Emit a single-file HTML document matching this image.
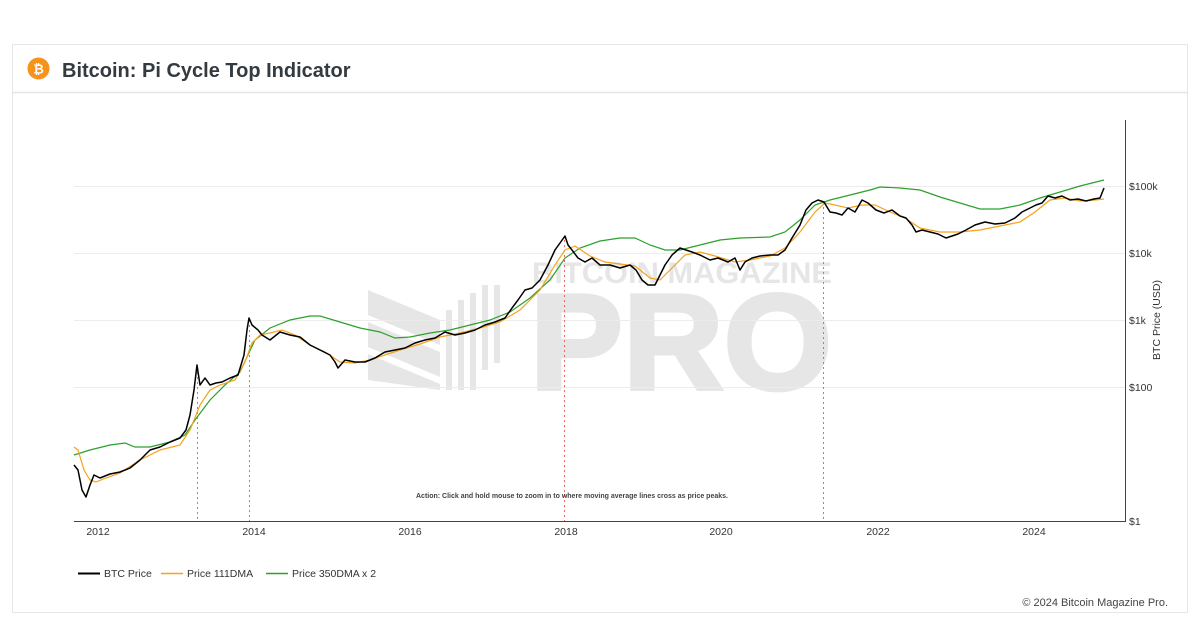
<!DOCTYPE html>
<html><head><meta charset="utf-8"><style>
body{margin:0;background:#fff;width:1200px;height:617px;overflow:hidden;font-family:"Liberation Sans",sans-serif}
</style></head><body>
<svg width="1200" height="617" xmlns="http://www.w3.org/2000/svg" font-family="Liberation Sans, sans-serif">
<rect x="12.5" y="44.5" width="1175" height="568" fill="#fff" stroke="#e6e6e6"/>
<line x1="13" y1="92.5" x2="1187" y2="92.5" stroke="#e6e6e6" stroke-width="1.5"/>
<circle cx="38.5" cy="68.5" r="11" fill="#f7931a"/>
<text x="38.5" y="73.5" font-size="13" font-weight="bold" fill="#fff" text-anchor="middle">₿</text>
<text x="62" y="77" font-size="20" font-weight="bold" fill="#333a40">Bitcoin: Pi Cycle Top Indicator</text>
<g fill="#e6e6e6">
<text x="532" y="283" font-size="30" font-weight="bold" textLength="300" lengthAdjust="spacingAndGlyphs">BITCOIN MAGAZINE</text>
<text x="530" y="389" font-size="136" font-weight="bold" textLength="302" lengthAdjust="spacingAndGlyphs" stroke="#e6e6e6" stroke-width="4">PRO</text>
<polygon points="368,290 440,320 440,345 368,315"/>
<polygon points="368,322 440,352 440,377 368,347"/>
<polygon points="368,354 440,384 440,390 368,380"/>
<rect x="446" y="310" width="6" height="80"/><rect x="458" y="300" width="6" height="90"/>
<rect x="470" y="293" width="6" height="97"/><rect x="482" y="285" width="6" height="85"/>
<rect x="494" y="285" width="6" height="78"/>
</g>
<g stroke="#ececec" stroke-width="1">
<line x1="74" y1="186.5" x2="1125" y2="186.5"/><line x1="74" y1="253.5" x2="1125" y2="253.5"/>
<line x1="74" y1="320.5" x2="1125" y2="320.5"/><line x1="74" y1="387.5" x2="1125" y2="387.5"/>
</g>
<g stroke="#ee6666" stroke-width="1" stroke-dasharray="2,3">
<line x1="197.5" y1="367" x2="197.5" y2="521"/><line x1="249.5" y1="320" x2="249.5" y2="521"/>
<line x1="564.5" y1="240" x2="564.5" y2="521"/><line x1="823.5" y1="202" x2="823.5" y2="521"/>
</g>
<polyline fill="none" stroke="#2ca02c" stroke-width="1.2" points="74,455 90,450 110,445 125,443 135,447 150,447 170,442 185,435 195,420 210,400 225,385 240,372 255,340 270,328 290,320 310,316 320,316 340,322 360,328 380,332 395,338 410,337 430,333 450,330 470,325 490,320 510,312 530,298 550,280 565,258 580,248 600,241 620,238 635,238 650,245 665,250 680,250 700,245 720,240 740,238 770,237 785,232 800,220 815,205 830,200 850,195 870,190 880,187 900,188 920,190 940,197 960,203 980,209 1000,209 1020,205 1040,198 1060,192 1080,186 1104,180"/>
<polyline fill="none" stroke="#f7a21c" stroke-width="1.2" points="74,447 78,450 84,470 90,480 96,482 106,478 120,473 140,460 160,450 180,445 190,430 200,405 210,390 220,385 235,380 245,362 252,343 260,335 270,333 282,330 295,335 310,345 325,352 340,362 355,363 370,360 385,355 400,350 420,344 440,337 460,333 480,328 500,322 520,310 540,290 555,265 565,250 575,246 590,256 605,262 620,264 635,266 650,278 660,280 672,268 685,255 700,252 715,256 735,262 750,260 770,256 785,248 800,232 815,212 825,203 835,205 848,208 862,205 875,205 890,212 905,218 920,228 940,232 960,232 980,230 1000,226 1020,222 1035,212 1050,200 1065,198 1080,201 1095,200 1104,199"/>
<polyline fill="none" stroke="#000" stroke-width="1.5" stroke-linejoin="round" points="74,465 78,470 82,490 86,497 90,485 94,475 100,478 110,474 120,472 130,468 140,460 150,450 160,447 170,442 180,438 186,430 190,415 194,390 197,365 200,385 205,378 210,385 216,383 222,382 230,378 238,375 244,355 247,330 249,318 252,325 258,330 262,335 270,340 280,332 290,335 300,337 310,345 320,350 330,355 335,362 338,368 345,360 355,362 365,362 375,358 385,352 395,350 405,348 415,343 425,340 435,338 445,332 455,335 465,333 475,330 485,325 495,322 505,318 512,308 518,300 525,290 532,288 540,280 548,265 555,250 560,243 565,236 568,245 572,250 578,258 585,262 592,258 600,265 610,265 620,268 630,265 636,270 642,280 648,285 655,285 660,275 665,265 672,255 680,248 686,250 692,252 700,255 710,260 718,258 728,262 735,258 740,270 745,262 752,258 760,256 770,255 778,255 785,250 792,238 800,225 806,210 812,203 818,200 824,202 830,212 836,213 842,215 848,208 855,212 862,200 868,203 876,210 884,213 892,210 900,216 906,218 912,225 916,232 922,230 930,232 938,234 946,238 952,236 958,234 966,230 975,225 985,222 995,224 1005,223 1015,218 1022,212 1030,208 1036,205 1042,203 1048,196 1055,198 1062,196 1070,200 1078,199 1086,201 1094,199 1100,198 1104,188"/>
<line x1="74" y1="521.5" x2="1126" y2="521.5" stroke="#444"/>
<line x1="1125.5" y1="120" x2="1125.5" y2="522" stroke="#444"/>
<g font-size="10.5" fill="#333">
<text x="1129" y="190">$100k</text><text x="1129" y="257">$10k</text>
<text x="1129" y="324">$1k</text><text x="1129" y="391">$100</text><text x="1129" y="525">$1</text>
</g>
<text transform="translate(1160,320) rotate(-90)" font-size="10.5" fill="#333" text-anchor="middle">BTC Price (USD)</text>
<g font-size="10.5" fill="#333" text-anchor="middle">
<text x="98" y="535">2012</text><text x="254" y="535">2014</text><text x="410" y="535">2016</text>
<text x="566" y="535">2018</text><text x="721" y="535">2020</text><text x="878" y="535">2022</text><text x="1034" y="535">2024</text>
</g>
<text x="572" y="498" font-size="7" font-weight="bold" fill="#444" text-anchor="middle">Action: Click and hold mouse to zoom in to where moving average lines cross as price peaks.</text>
<g font-size="10.5" fill="#333">
<line x1="78" y1="573.5" x2="100" y2="573.5" stroke="#000" stroke-width="2"/><text x="104" y="577">BTC Price</text>
<line x1="161" y1="573.5" x2="183" y2="573.5" stroke="#f7a21c" stroke-width="1.5"/><text x="187" y="577">Price 111DMA</text>
<line x1="266" y1="573.5" x2="288" y2="573.5" stroke="#2ca02c" stroke-width="1.5"/><text x="292" y="577">Price 350DMA x 2</text>
</g>
<text x="1168" y="606" font-size="11" fill="#444" text-anchor="end">© 2024 Bitcoin Magazine Pro.</text>
</svg>
</body></html>
